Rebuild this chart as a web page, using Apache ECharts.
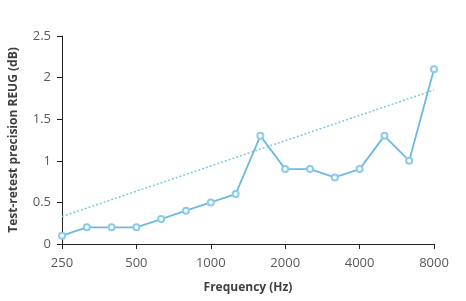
<!DOCTYPE html>
<html><head><meta charset="utf-8">
<script src="https://cdn.jsdelivr.net/npm/echarts@6/dist/echarts.min.js"></script>
<style>html,body{margin:0;padding:0;background:#fff;}#c{width:466px;height:301px;}</style>
</head><body><div id="c"></div>
<script>
var frequencies = ['250','315','400','500','630','800','1000','1250','1600','2000','2500','3150','4000','5000','6300','8000'];
var reugValues = [0.1,0.2,0.2,0.2,0.3,0.4,0.5,0.6,1.3,0.9,0.9,0.8,0.9,1.3,1.0,2.1];
var trendEnds = [['250',0.33],['8000',1.85]];
var yTicks = [0,0.5,1,1.5,2,2.5];

var chart = echarts.init(document.getElementById('c'));
var font = 'Open Sans';
chart.setOption({
  animation:false,
  grid:{left:60,right:32,top:36,bottom:57,containLabel:false},
  xAxis:{
    type:'category', data:frequencies, boundaryGap:false,
    name:'Frequency (Hz)', nameLocation:'middle', nameGap:38,
    nameTextStyle:{fontFamily:font,fontSize:12,fontWeight:'bold',color:'#404040'},
    axisLine:{lineStyle:{color:'#222',width:1}},
    axisTick:{interval:2,length:5,lineStyle:{color:'#222'}},
    axisLabel:{interval:2,fontFamily:font,fontSize:13,color:'#595959',margin:13},
    splitLine:{show:false}
  },
  yAxis:{
    type:'value', min:0, max:yTicks[yTicks.length-1], interval:0.5,
    name:'Test-retest precision REUG (dB)', nameLocation:'middle', nameGap:42,
    nameTextStyle:{fontFamily:font,fontSize:12,fontWeight:'bold',color:'#404040'},
    axisLine:{show:true,lineStyle:{color:'#222',width:1}},
    axisTick:{show:true,length:5,lineStyle:{color:'#222'}},
    axisLabel:{fontFamily:font,fontSize:13,color:'#595959',margin:11},
    splitLine:{show:false}
  },
  series:[
    {type:'line',data:reugValues,symbol:'emptyCircle',symbolSize:6,
     lineStyle:{color:'#6cb9e2',width:1.8},itemStyle:{color:'#8ccbea',borderWidth:1},z:3},
    {type:'line',data:trendEnds,symbol:'none',
     lineStyle:{color:'#7cc6e6',width:1.5,type:[2,2]},z:2}
  ]
});
</script></body></html>
